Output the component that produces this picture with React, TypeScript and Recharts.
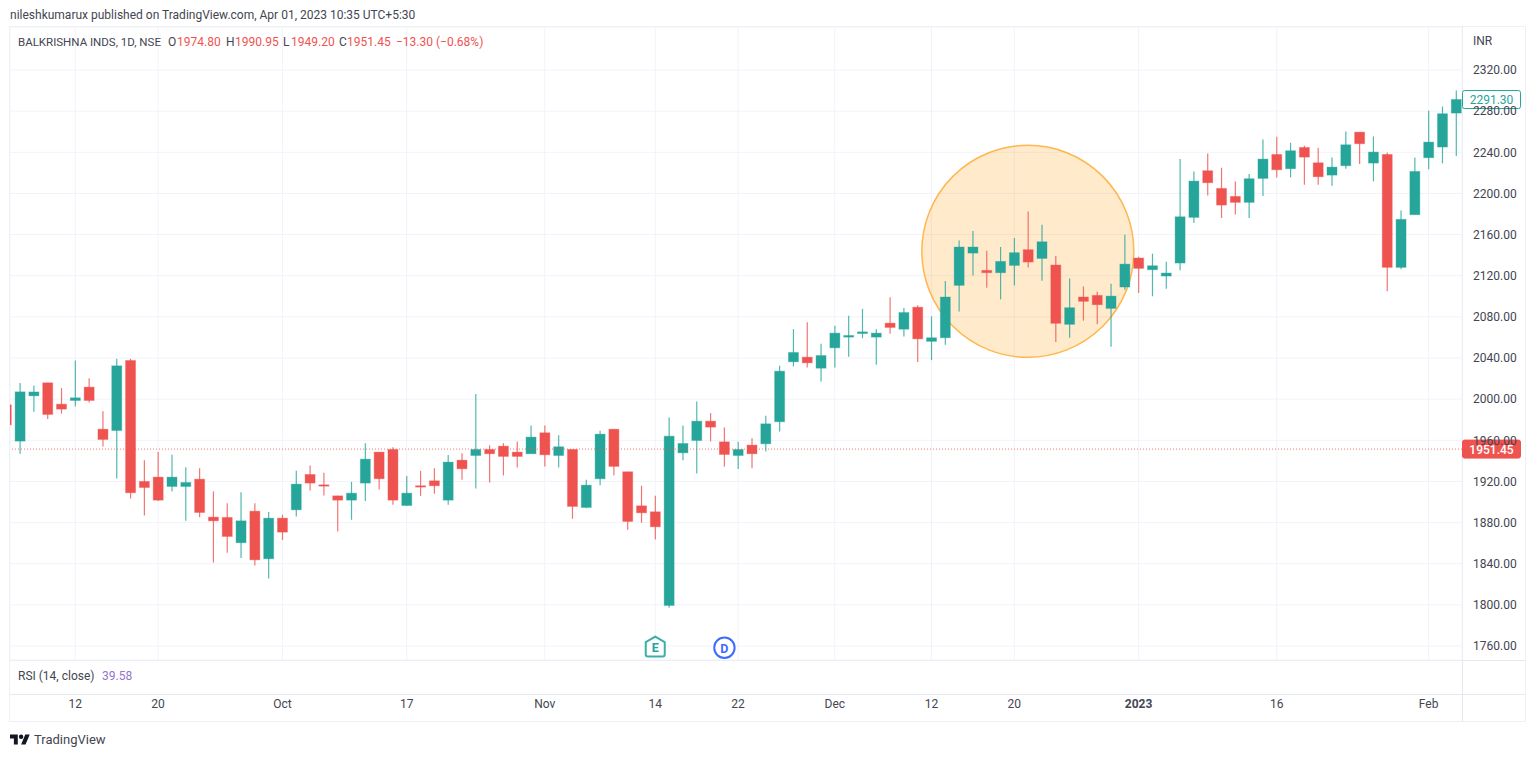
import React from 'react';
import { ComposedChart, Bar, XAxis, YAxis, CartesianGrid, ReferenceLine, ReferenceDot } from 'recharts';

const UP = '#26a69a';
const DOWN = '#ef5350';
const FONT = 'Roboto, sans-serif';

const indices = [-1,0,1,2,3,4,5,6,7,8,9,10,11,12,13,14,15,16,17,18,19,20,21,22,23,24,25,26,27,28,29,30,31,32,33,34,35,36,37,38,39,40,41,42,43,44,45,46,47,48,49,50,51,52,53,54,55,56,57,58,59,60,61,62,63,64,65,66,67,68,69,70,71,72,73,74,75,76,77,78,79,80,81,82,83,84,85,86,87,88,89,90,91,92,93,94,95,96,97,98,99,100,101,102,103,104];
const opens = [1994.5,1959.2,2003.2,2015.9,1995.1,1998.7,2011.7,1970.8,1969.5,2037.6,1920,1924.2,1915.1,1915.1,1922.2,1885.3,1885,1860.4,1891.1,1844.8,1884.3,1892.4,1926.8,1916.7,1906,1901.8,1918.4,1948.5,1951.1,1896.6,1915.8,1920.6,1901.8,1940.7,1945.2,1951.1,1954.3,1948.5,1946.9,1967.3,1945.2,1951.1,1894.7,1922.6,1970.8,1929.4,1896.3,1890.5,1799.4,1947.8,1959.8,1978.6,1958.5,1945.2,1955.3,1956.6,1978,2036.3,2040.8,2030.1,2049.9,2060.3,2063.8,2060.3,2073.9,2068,2089.4,2056.2,2059.7,2110.6,2142,2125.2,2122.9,2130,2145.3,2136.8,2130.4,2072.7,2099.3,2100.9,2088.2,2109,2137.2,2125.8,2119.7,2132.3,2176.7,2222.1,2204.9,2197.1,2191.3,2214.6,2237.9,2224,2244.7,2229.8,2217.8,2226.9,2259.6,2229.5,2237.9,2128.1,2179.3,2234.7,2245.1,2278.1];
const highs = [1994.5,2015.6,2013.3,2016,2010.7,2037.6,2020.4,1988.3,2039.2,2039.2,1940.7,1948.5,1945.9,1933.9,1932.9,1910.3,1898.9,1909.6,1898.9,1890.2,1887.6,1930.3,1935.5,1928.4,1906,1919.6,1957.2,1948.5,1953.3,1925.2,1930.3,1932.9,1945.6,1947.5,2004.9,1955.3,1957.2,1958.9,1974.4,1974.4,1965,1951.1,1921.6,1969.2,1970.8,1929.4,1915.8,1906,1982.2,1974.4,1997.7,1986.4,1972.5,1958.5,1962.1,1983.8,2032.4,2068,2074.8,2053.8,2071.3,2081,2087.8,2068,2099.1,2088.5,2091.4,2080.5,2114.8,2154.3,2163.4,2144.3,2147.9,2156.6,2182.5,2169.6,2139.1,2117.4,2109.6,2104.4,2112.2,2159.9,2138.5,2141.4,2133.6,2233.4,2221.4,2238.9,2225,2211.7,2218.8,2252.5,2255.1,2249.3,2246.4,2244.4,2235,2260.3,2259.6,2255.4,2239.9,2183.5,2235,2280.4,2284.6,2300.1];
const lows = [1975,1946.9,1987.7,1980.6,1986,1992.9,1996.8,1954,1922.9,1903.4,1886.9,1900.9,1910.3,1881.7,1885.3,1841.2,1850.6,1845.5,1838.3,1825.7,1862.9,1885.9,1911.2,1906.4,1871.4,1882.7,1900.9,1912.2,1897.3,1896.6,1906,1908,1897.3,1921.6,1913.2,1919,1925.8,1933.6,1946.9,1934.6,1933.6,1883.7,1894,1916.4,1925.8,1873,1879.8,1863.6,1797.2,1940.7,1927.7,1958.9,1934.6,1932,1932.9,1949.1,1968.6,2031.8,2030.8,2017.2,2030.8,2041.1,2059.3,2033.4,2063.5,2060.9,2036,2037.9,2052.9,2085.3,2120.3,2108.3,2097,2110.6,2128.1,2115.1,2055.5,2059.7,2076.3,2072.7,2051,2106.4,2103.2,2100,2107.4,2125.2,2171.2,2198.1,2176.1,2179.6,2176.1,2197.4,2215.6,2215.6,2208.5,2208.5,2207.5,2224,2228.5,2211.7,2104.8,2126.2,2179.3,2223.4,2229.2,2236.3];
const closes = [1975,2007.1,2007,1985.1,1990.3,2001.3,1998.7,1960.8,2032.4,1909,1914.1,1901.8,1924.2,1919,1889.8,1881.7,1866.5,1881.7,1843.8,1884.3,1870.7,1917.4,1918.4,1915.4,1901.8,1908.6,1941.7,1922.6,1901.8,1908.6,1914.5,1915.8,1938.8,1932.3,1951.1,1946.9,1944.3,1944.3,1963.1,1945.9,1953.7,1895.7,1916.4,1966,1934.6,1881.1,1889.5,1875.9,1964,1956.9,1978.6,1972.8,1946.2,1951.1,1946.9,1976,2027.2,2045.4,2035.3,2042.4,2064.2,2061.9,2065.4,2064.2,2069.7,2084.2,2058.6,2059.7,2099.3,2147.9,2147.9,2122.9,2133.9,2142.4,2133.3,2153,2073.7,2088.9,2095.1,2091.8,2100.2,2131.3,2127.1,2129.7,2122.6,2177.3,2212,2210.4,2188.7,2191.3,2214.3,2233.4,2223,2241.5,2235.3,2216.2,2225.6,2247.3,2248.3,2240.2,2128.1,2174.8,2221.4,2249.9,2277.5,2291.4];

const timeTickIndex = [4, 10, 19, 28, 38, 46, 52, 59, 66, 72, 81, 91, 102];
const timeTickLabels = ['12', '20', 'Oct', '17', 'Nov', '14', '22', 'Dec', '12', '20', '2023', '16', 'Feb'];
const priceTicks = [1760,1800,1840,1880,1920,1960,2000,2040,2080,2120,2160,2200,2240,2280,2320];
const legendParts: [string, number, string, number][] = [
  ['BALKRISHNA INDS, 1D, NSE', 18, '#434651', 11.5], ['O', 168, '#434651', 12], ['1974.80', 177, DOWN, 12],
  ['H', 226, '#434651', 12], ['1990.95', 235, DOWN, 12], ['L', 283, '#434651', 12], ['1949.20', 291, DOWN, 12],
  ['C', 339, '#434651', 12], ['1951.45', 347, DOWN, 12], ['\u221213.30 (\u22120.68%)', 396, DOWN, 12],
];

const chartData = indices.map((i, k) => ({
  i, range: [lows[k], highs[k]], open: opens[k], close: closes[k],
}));

function Candle(props: any) {
  const { x, y, width, height, payload } = props;
  const [low, high] = payload.range;
  const perUnit = height / (high - low);
  const yOf = (v: number) => y + (high - v) * perUnit;
  const color = payload.close >= payload.open ? UP : DOWN;
  const cx = x + width / 2;
  const top = yOf(Math.max(payload.open, payload.close));
  const bot = yOf(Math.min(payload.open, payload.close));
  return (
    <g>
      <line x1={cx} x2={cx} y1={y} y2={y + height} stroke={color} strokeWidth={1.2} strokeOpacity={0.8} />
      <rect x={x} y={top} width={width} height={Math.max(bot - top, 1)} fill={color} stroke={color} strokeOpacity={0.35} strokeWidth={1} />
    </g>
  );
}

function PriceTag(props: any) {
  const { viewBox, value, fill, stroke, color, weight } = props;
  const left = viewBox.x + viewBox.width;
  return (
    <g>
      <rect x={left + 0.5} y={viewBox.y - 9} width={58} height={18} rx={2} fill={fill} stroke={stroke} />
      <text x={left + 29.5} y={viewBox.y + 4.5} textAnchor="middle" fontSize={12} fontWeight={weight} fontFamily={FONT} fill={color}>{value}</text>
    </g>
  );
}

function EarningsMark(props: any) {
  const { cx, cy } = props;
  return (
    <g>
      <path d={`M${cx - 9.5} ${cy - 5} L${cx} ${cy - 10.5} L${cx + 9.5} ${cy - 5} L${cx + 9.5} ${cy + 7.5} Q${cx + 9.5} ${cy + 9.5} ${cx + 7.5} ${cy + 9.5} L${cx - 7.5} ${cy + 9.5} Q${cx - 9.5} ${cy + 9.5} ${cx - 9.5} ${cy + 7.5} Z`} fill="#fff" stroke={UP} strokeOpacity={0.9} strokeWidth={2} strokeLinejoin="round" />
      <text x={cx} y={cy + 5} textAnchor="middle" fontSize={12.5} fontWeight={700} fontFamily={FONT} fill={UP}>E</text>
    </g>
  );
}

function DividendMark(props: any) {
  const { cx, cy } = props;
  return (
    <g>
      <circle cx={cx} cy={cy} r={10.2} fill="#fff" stroke="#3d6cff" strokeWidth={2} />
      <text x={cx} y={cy + 4.8} textAnchor="middle" fontSize={12.5} fontWeight={700} fontFamily={FONT} fill="#3d6cff">D</text>
    </g>
  );
}

function TimeTick(props: any) {
  const { x, y, payload } = props;
  const label = timeTickLabels[timeTickIndex.indexOf(payload.value)];
  return (
    <text x={x} y={y} dy={4} textAnchor="middle" fontSize={12} fontFamily={FONT} fill="#434651" fontWeight={label === '2023' ? 700 : 400}>{label}</text>
  );
}

const abs = (left: number, top: number, extra: React.CSSProperties = {}): React.CSSProperties => ({
  position: 'absolute', left, top, fontFamily: FONT, fontSize: 12, lineHeight: '14px', color: '#434651', whiteSpace: 'nowrap', ...extra,
});
const BORDER = '#e6e8f0';

export default function App() {
  return (
    <div style={{ position: 'absolute', left: 0, top: 0, width: 1536, height: 757, background: '#fff', overflow: 'hidden' }}>
      <div style={abs(10, 8)}>nileshkumarux published on TradingView.com, Apr 01, 2023 10:35 UTC+5:30</div>
      <div style={{ position: 'absolute', left: 9, top: 26, width: 1517, height: 696, border: `1.5px solid #eef0f5`, boxSizing: 'border-box' }} />
      <div style={{ position: 'absolute', left: 10, top: 660, width: 1515, height: 1, background: BORDER }} />
      <div style={{ position: 'absolute', left: 10, top: 694, width: 1515, height: 1, background: BORDER }} />
      <div style={{ position: 'absolute', left: 1462, top: 26, width: 1, height: 696, background: BORDER }} />
      <div style={{ position: 'absolute', left: 0, top: 0 }}>
        <ComposedChart width={1536} height={757} data={chartData} margin={{ top: 27, right: 14, bottom: 35, left: 10 }}>
          <CartesianGrid stroke="#f0f3fa" strokeWidth={1} />
          <XAxis dataKey="i" type="number" domain={[-0.724, 104.42]} allowDataOverflow ticks={timeTickIndex} interval={0}
            height={62} axisLine={false} tickLine={false} tickSize={0} tickMargin={44} tick={<TimeTick />} />
          <YAxis orientation="right" type="number" domain={[1746.4, 2361.8]} allowDataOverflow ticks={priceTicks} interval={0}
            width={60} axisLine={false} tickLine={false} tickSize={0} tickMargin={11}
            tickFormatter={(v: number) => v.toFixed(2)} tick={{ fontSize: 12, fontFamily: FONT, fill: '#434651', textAnchor: 'start' }} />
          <ReferenceDot x={72.98} y={2143.7} r={106} fill="#ff9800" fillOpacity={0.2} stroke="#ffb74d" strokeWidth={1.5} ifOverflow="visible" zIndex={-50} />
          <ReferenceLine y={1951.45} stroke={DOWN} strokeDasharray="1 2" strokeOpacity={0.8}
            label={<PriceTag value="1951.45" fill={DOWN} stroke={DOWN} color="#fff" weight={500} />} />
          <ReferenceLine y={2291.3} stroke="none"
            label={<PriceTag value="2291.30" fill="#fff" stroke={UP} color={UP} weight={400} />} />
          <Bar dataKey="range" barSize={10} isAnimationActive={false} shape={<Candle />} />
          <ReferenceDot x={46} y={1759} r={10} shape={<EarningsMark />} ifOverflow="visible" />
          <ReferenceDot x={51.01} y={1758.3} r={10} shape={<DividendMark />} ifOverflow="visible" />
        </ComposedChart>
      </div>
      {legendParts.map(([t, left, color, size]) => (
        <div key={left} style={abs(left, 35, { color, fontSize: size })}>{t}</div>
      ))}
      <div style={abs(1473, 34)}>INR</div>
      <div style={abs(18, 669)}>RSI (14, close)</div>
      <div style={abs(102, 669, { color: '#9575cd' })}>39.58</div>
      <svg style={{ position: 'absolute', left: 10, top: 733.5 }} width={20} height={11} viewBox="0 4 36 18">
        <path fill="#131722" d="M14 22H7V11H0V4h14v18zM28 22h-8l7.5-18h8L28 22z" />
        <circle cx={20} cy={8} r={4} fill="#131722" />
      </svg>
      <div style={abs(34, 733, { fontSize: 13 })}>TradingView</div>
    </div>
  );
}
